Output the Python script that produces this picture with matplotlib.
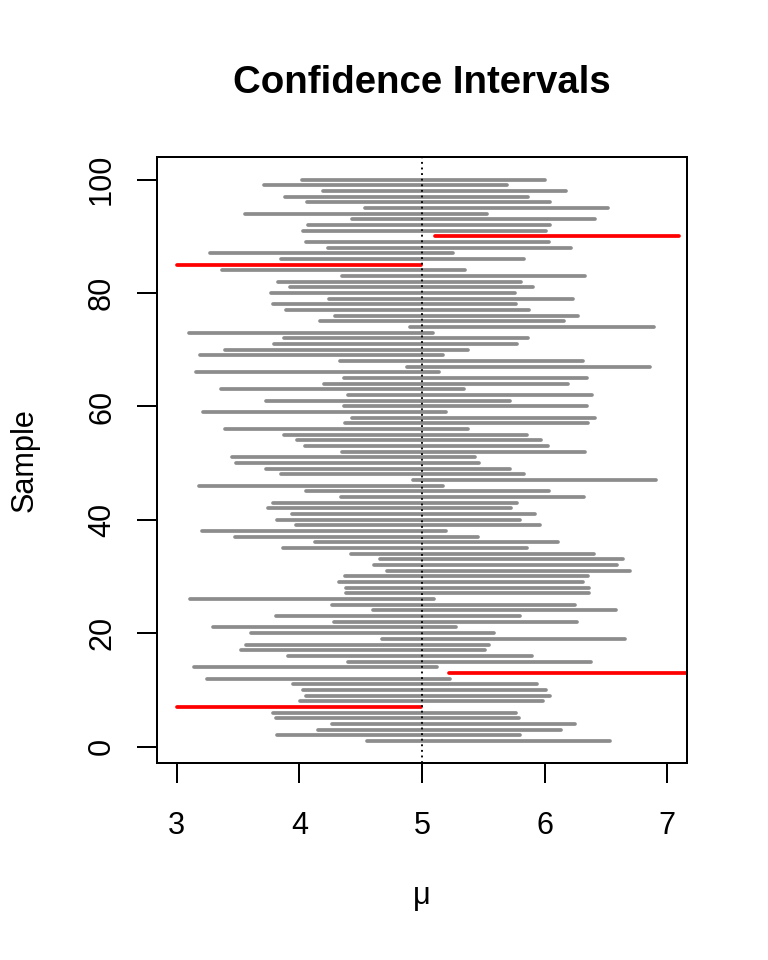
import matplotlib
matplotlib.use("Agg")
import matplotlib.pyplot as plt
import numpy as np

plt.rcParams['font.family'] = ['Liberation Sans', 'DejaVu Sans']

# sample index 1..100
sample = list(range(1, 101))
lower = [4.548, 3.816, 4.154, 4.263, 3.808, 3.784, 3.005, 4.007, 4.053, 4.026,
         3.952, 3.245, 5.218, 3.139, 4.393, 3.909, 3.528, 3.563, 4.676, 3.610,
         3.294, 4.279, 3.814, 4.600, 4.263, 3.112, 4.377, 4.380, 4.325, 4.369,
         4.714, 4.605, 4.657, 4.423, 3.871, 4.127, 3.479, 3.210, 3.977, 3.816,
         3.939, 3.743, 3.789, 4.339, 4.056, 3.182, 4.927, 3.849, 3.732, 3.484,
         3.452, 4.350, 4.045, 3.982, 3.873, 3.392, 4.371, 4.426, 3.215, 4.363,
         3.732, 4.399, 3.362, 4.205, 4.363, 3.158, 4.875, 4.328, 3.190, 3.397,
         3.792, 3.879, 3.103, 4.905, 4.170, 4.290, 3.892, 3.789, 4.243, 3.773,
         3.920, 3.827, 4.347, 3.367, 3.005, 3.849, 3.269, 4.235, 4.056, 5.106,
         4.029, 4.067, 4.426, 3.555, 4.535, 4.061, 3.887, 4.192, 3.710, 4.023]
upper = [6.535, 5.800, 6.137, 6.249, 5.794, 5.765, 4.990, 5.990, 6.040, 6.010,
         5.936, 5.226, 7.250, 5.120, 6.377, 5.893, 5.512, 5.547, 6.657, 5.590,
         5.278, 6.265, 5.797, 6.584, 6.247, 5.095, 6.358, 6.363, 6.312, 6.352,
         6.698, 6.589, 6.641, 6.404, 5.855, 6.110, 5.460, 5.193, 5.958, 5.800,
         5.925, 5.727, 5.773, 6.322, 6.037, 5.169, 6.910, 5.833, 5.718, 5.468,
         5.435, 6.331, 6.029, 5.966, 5.857, 5.373, 6.355, 6.407, 5.198, 6.347,
         5.716, 6.382, 5.345, 6.186, 6.347, 5.141, 6.856, 6.312, 5.174, 5.378,
         5.778, 5.863, 5.087, 6.888, 6.154, 6.273, 5.873, 5.770, 6.227, 5.754,
         5.904, 5.811, 6.328, 5.349, 4.990, 5.830, 5.253, 6.216, 6.039, 7.092,
         6.012, 6.047, 6.407, 5.533, 6.516, 6.045, 5.868, 6.176, 5.694, 6.004]
mu = 5
xticks = [3, 4, 5, 6, 7]
yticks = [0, 20, 40, 60, 80, 100]

fig = plt.figure(figsize=(8, 10), dpi=96)
ax = fig.add_axes([157 / 768, 1 - 763.3 / 960, 530 / 768, (763.3 - 157.3) / 960])

for s, lo, hi in zip(sample, lower, upper):
    col = '#8c8c8c' if (lo <= mu <= hi) else '#ff0000'
    ax.plot([lo, hi], [s, s], color=col, lw=2.8, solid_capstyle='round', zorder=2)

ax.axvline(mu, color='black', lw=1.4, linestyle=(0, (1, 2)), zorder=3)

ax.set_xlim(3 - 0.04 * 4, 7 + 0.04 * 4)
ax.set_ylim(1 - 0.04 * 99, 100 + 0.04 * 99)
ax.set_xticks(xticks)
ax.set_yticks(yticks)
ax.set_xticklabels([str(v) for v in xticks], fontsize=23)
ax.set_yticklabels([str(v) for v in yticks], fontsize=23, rotation=90, va='center')
ax.tick_params(axis='both', direction='out', length=15, width=1.5)
ax.tick_params(axis='x', pad=21)
ax.tick_params(axis='y', pad=15)
for sp in ax.spines.values():
    sp.set_linewidth(1.5)

fig.text(422 / 768, 1 - 93 / 960, 'Confidence Intervals', fontsize=28.8,
         fontweight='bold', ha='center', va='baseline')
fig.text(422 / 768, 1 - 904 / 960, 'μ', fontsize=23, ha='center', va='baseline')
fig.text(25 / 768, 1 - 460 / 960, 'Sample', fontsize=23, rotation=90,
         ha='center', va='center')

fig.savefig('out.png', dpi=96)
